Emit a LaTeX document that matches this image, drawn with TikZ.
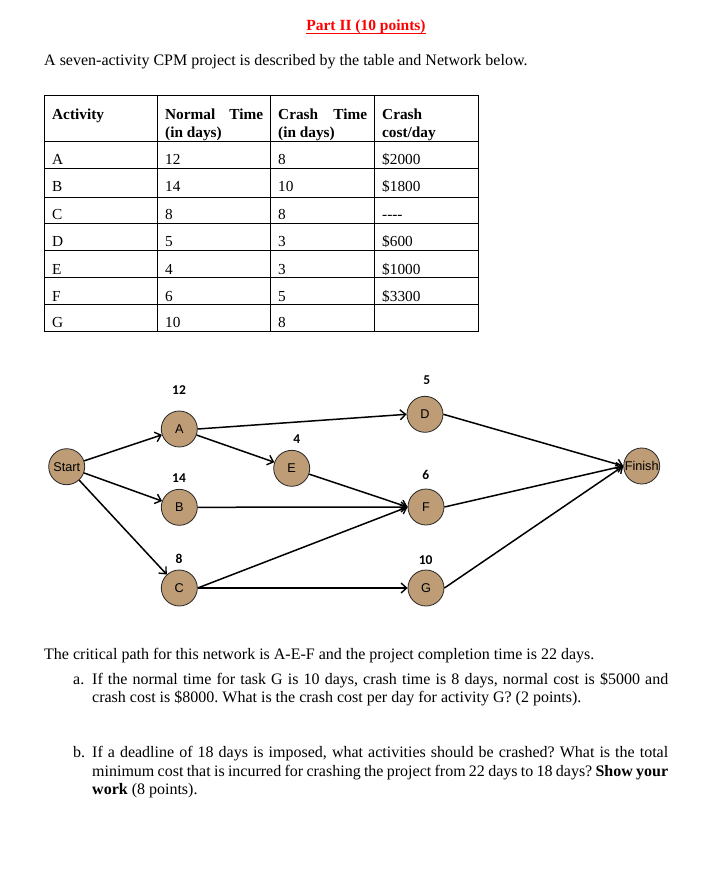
\documentclass[tikz,border=0pt]{standalone}
\usepackage{fontspec}
\setmainfont{Liberation Serif}
\newfontfamily\arialf{Liberation Sans}
\newfontfamily\calib{Carlito}
\usetikzlibrary{arrows.meta}
\definecolor{nodefill}{RGB}{190,156,118}
\frenchspacing
\begin{document}
\begin{tikzpicture}[x=1pt,y=-1pt,
  txt/.style={inner sep=0pt, anchor=base west, font=\frenchspacing\fontsize{15.3}{18}\selectfont},
  body/.style={inner sep=0pt, anchor=base west, font=\frenchspacing\fontsize{16}{18}\selectfont},
  hd/.style={inner sep=0pt, anchor=base west, font=\fontsize{15.3}{18}\selectfont\bfseries},
  tbl/.style={draw=black, line width=1pt},
  ev/.style={circle, draw=black!85, fill=nodefill, minimum size=36pt, inner sep=0pt, line width=0.8pt, font=\arialf\fontsize{12.7}{14}\selectfont},
  dur/.style={inner sep=0pt, font=\calib\bfseries\fontsize{13.5}{15}\selectfont},
  arr/.style={-{Straight Barb[length=5.5pt,width=10pt,line width=1.4pt]}, line width=1.5pt}
]
\fill[white] (0,0) rectangle (724,896);
\useasboundingbox (0,0) rectangle (724,896);

% title
\node[inner sep=0pt, anchor=base, font=\fontsize{15.5}{18}\selectfont\bfseries, text=red] (title) at (366,31) {Part II (10 points)};
\draw[red, line width=1.8pt] ([yshift=-2.5pt]title.base west) -- ([yshift=-2.5pt]title.base east);
\node[body] (intro) at (44,66) {A seven-activity CPM project is described by the table and Network below.};

% table
\draw[tbl] (44,96) rectangle (478,331);
\foreach \xx in {157,270,374} \draw[tbl] (\xx,96) -- (\xx,331);
\foreach \yy in {142,169,197,223,250,277,304} \draw[tbl] (44,\yy) -- (478,\yy);

\node[hd] (h1) at (52,120) {Activity};
\node[hd] (h2) at (165,120) {\makebox[98pt][s]{Normal Time}};
\node[hd] (h2b) at (165,138) {(in days)};
\node[hd] (h3) at (278,120) {\makebox[89pt][s]{Crash Time}};
\node[hd] (h3b) at (278,138) {(in days)};
\node[hd] (h4) at (382,120) {Crash};
\node[hd] (h4b) at (382,138) {cost/day};

\foreach \act/\nt/\ct/\cc/\yb in {A/12/8/\$2000/165, B/14/10/\$1800/192, C/8/8/{{-}{-}{-}{-}}/219, D/5/3/\$600/246, E/4/3/\$1000/274, F/6/5/\$3300/301, G/10/8/{}/327}{
  \node[txt] (ra\act) at (52,\yb) {\act};
  \node[txt] (rn\act) at (165,\yb) {\nt};
  \node[txt] (rc\act) at (278,\yb) {\ct};
  \node[txt] (rk\act) at (382,\yb) {\cc};
}

% network
\node[ev] (start) at (66.7,466.7) {Start};
\node[ev] (A) at (179.3,429) {A};
\node[ev] (B) at (179.3,507.3) {B};
\node[ev] (C) at (179.3,588) {C};
\node[ev] (E) at (291.7,468.3) {E};
\node[ev] (D) at (425,414.3) {D};
\node[ev] (F) at (426,507) {F};
\node[ev] (G) at (426,588) {G};
\node[ev] (finish) at (641.7,466) {Finish};

\node[dur] (dA) at (179,390) {12};
\node[dur] (dB) at (179,478) {14};
\node[dur] (dC) at (179,558.7) {8};
\node[dur] (dE) at (296.7,439) {4};
\node[dur] (dD) at (426.7,380) {5};
\node[dur] (dF) at (425.7,475) {6};
\node[dur] (dG) at (425.7,560) {10};

\draw[arr] (start) -- (A);
\draw[arr] (start) -- (B);
\draw[arr] (start) -- (C);
\draw[arr] (A.east) -- (D.west);
\draw[arr] (A) -- (E);
\draw[arr] (E) -- (F.west);
\draw[arr] (B.east) -- (F.west);
\draw[arr] (C.east) -- (F.west);
\draw[arr] (C.east) -- (G.west);
\draw[arr] (D.east) -- (finish.west);
\draw[arr] (F.east) -- (finish.west);
\draw[arr] (G.east) -- (finish.west);

% questions
\node[body] (crit) at (44,659) {The critical path for this network is A-E-F and the project completion time is 22 days.};
\node[body] (la) at (73,684) {a.};
\node[body] (a1) at (92,684) {\makebox[576pt][s]{If the normal time for task G is 10 days, crash time is 8 days, normal cost is \$5000 and}};
\node[body] (a2) at (92,702) {crash cost is \$8000. What is the crash cost per day for activity G? (2 points).};
\node[body] (lb) at (73,757) {b.};
\node[body] (b1) at (92,757) {\makebox[576pt][s]{If a deadline of 18 days is imposed, what activities should be crashed? What is the total}};
\node[body] (b2) at (92,776) {\makebox[576pt][s]{minimum cost that is incurred for crashing the project from 22 days to 18 days? \textbf{Show your}}};
\node[body] (b3) at (92,794) {\textbf{work} (8 points).};
\end{tikzpicture}
\end{document}
